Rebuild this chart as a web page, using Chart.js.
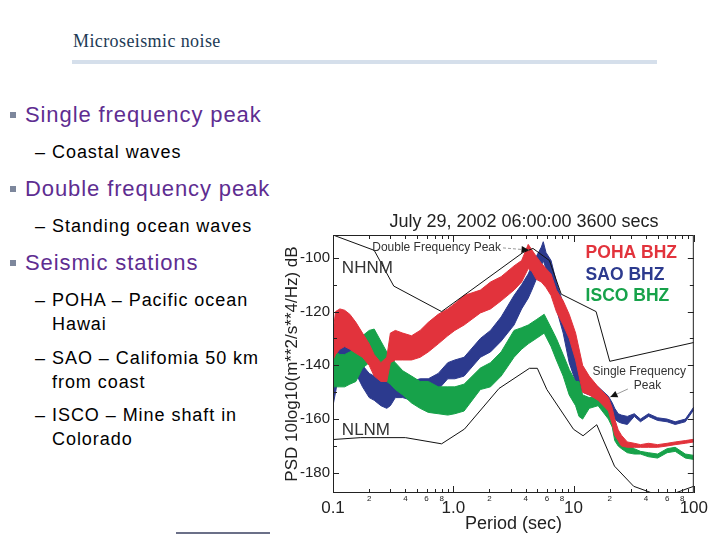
<!DOCTYPE html>
<html>
<head>
<meta charset="utf-8">
<script src="https://cdn.jsdelivr.net/npm/chart.js@4"></script>
<style>
  body { margin: 0; background: #fff; }
  #slide { position: relative; width: 720px; height: 540px; overflow: hidden; font-family: "Liberation Sans", Arial, sans-serif; }
  .t { position: absolute; white-space: nowrap; }
  .head { font-family: "Liberation Serif", serif; font-size: 18px; color: #1d3b55; letter-spacing: 0.4px; }
  .b1 { font-size: 22px; line-height: 26px; color: #5e2d91; letter-spacing: 0.9px; }
  .b2 { font-size: 18px; line-height: 22px; color: #000; letter-spacing: 0.95px; }
  .sq { position: absolute; width: 6px; height: 6px; background: #7d879c; }
  #c { position: absolute; left: 280px; top: 205px; }
</style>
</head>
<body>
<div id="slide">
  <div class="t head" style="left:73px;top:31px;">Microseismic noise</div>
  <div style="position:absolute;left:72px;top:60px;width:585px;height:4px;background:#d5dfeb;"></div>

  <div class="sq" style="left:10px;top:112px;"></div>
  <div class="t b1" style="left:25px;top:102px;">Single frequency peak</div>
  <div class="t b2" style="left:35px;top:141px;">–</div>
  <div class="t b2" style="left:52px;top:141px;">Coastal waves</div>

  <div class="sq" style="left:10px;top:186px;"></div>
  <div class="t b1" style="left:25px;top:176px;">Double frequency peak</div>
  <div class="t b2" style="left:35px;top:215px;">–</div>
  <div class="t b2" style="left:52px;top:215px;">Standing ocean waves</div>

  <div class="sq" style="left:10px;top:260px;"></div>
  <div class="t b1" style="left:25px;top:250px;">Seismic stations</div>
  <div class="t b2" style="left:35px;top:289px;">–</div>
  <div class="t b2" style="left:52px;top:289px;">POHA – Pacific ocean</div>
  <div class="t b2" style="left:52px;top:313px;">Hawai</div>
  <div class="t b2" style="left:35px;top:347px;">–</div>
  <div class="t b2" style="left:52px;top:347px;">SAO – Califomia 50 km</div>
  <div class="t b2" style="left:52px;top:371px;">from coast</div>
  <div class="t b2" style="left:35px;top:404px;">–</div>
  <div class="t b2" style="left:52px;top:404px;">ISCO – Mine shaft in</div>
  <div class="t b2" style="left:52px;top:428px;">Colorado</div>

  <div style="position:absolute;left:176px;top:532px;width:94px;height:2px;background:#6b7088;"></div>

  <canvas id="c" width="430" height="330"></canvas>
</div>

<script>
// chart text
const chartTitle = 'July 29, 2002 06:00:00 3600 secs';
const xTitle = 'Period (sec)';
const yTitle = 'PSD 10log10(m**2/s**4/Hz) dB';

// axis ticks
const xTickValues = [0.1, 0.2, 0.3, 0.4, 0.5, 0.6, 0.7, 0.8, 0.9,
  1, 2, 3, 4, 5, 6, 7, 8, 9,
  10, 20, 30, 40, 50, 60, 70, 80, 90, 100];
const xMajorLabels = { 0.1: '0.1', 1: '1.0', 10: '10', 100: '100' };
const xMinorLabelDigits = [2, 4, 6, 8];
const yTickValues = [-180, -170, -160, -150, -140, -130, -120, -110, -100];
const yLabelStep = 20;

// New high / low noise models
const nhnmPeriod = [0.1, 0.22, 0.32, 0.8, 3.8, 4.6, 6.3, 7.9, 15.4, 20, 100];
const nhnmDb = [-91.5, -97.2, -110.5, -120, -98, -96.5, -101, -113.5, -120, -138.5, -131.5];
const nlnmPeriod = [0.1, 0.17, 0.4, 0.8, 1.24, 2.4, 4.3, 5, 6, 10, 12, 15.6, 21.9, 31.6, 45, 70, 100];
const nlnmDb = [-167.6, -166.9, -166.9, -169.2, -163.7, -148.6, -141.1, -141.1, -149, -163.8, -166.2, -162.1, -177.5, -185, -187.5, -187.5, -185];

// POHA BHZ (red) band
const pohaPeriod = [0.1, 0.105, 0.114, 0.125, 0.138, 0.155, 0.176, 0.2, 0.22, 0.25, 0.28, 0.3, 0.33, 0.38, 0.45, 0.53, 0.62, 0.75, 0.9, 1.03, 1.23, 1.68, 2.04, 2.5, 3.2, 3.7, 4.2, 4.5, 4.9, 5.4, 5.9, 6.5, 7.2, 8.2, 9.2, 10.4, 11.9, 13.5, 16, 19.5, 21, 22, 23.5, 25, 28, 32, 36, 42, 50, 60, 70, 85, 100];
const pohaUpper = [-128, -120, -119, -119.5, -121, -124, -128, -132, -136, -139, -137, -128, -127, -128, -129, -127, -124, -121, -119, -117, -114, -112, -109, -107, -103, -101, -95, -97, -99.5, -102, -104, -106, -112, -116, -121, -128, -140, -144, -148, -152, -156, -160, -164, -166, -168.5, -169, -169.5, -169, -169.5, -169, -168.5, -168, -167.5];
const pohaLower = [-138, -136, -134, -133, -134, -135.5, -137, -140, -144, -146, -146, -139, -138, -138, -138, -137, -135, -132, -129, -127, -125, -120.5, -119, -116, -112, -109, -104, -105, -108, -109, -111, -114, -120, -125, -130, -138, -150, -151, -153, -157, -162, -166, -168, -170, -170.5, -170.5, -170.5, -170.5, -170.5, -170, -169.5, -169, -168.5];

// SAO BHZ (blue) band
const saoPeriod = [0.1, 0.105, 0.114, 0.125, 0.138, 0.155, 0.176, 0.2, 0.22, 0.25, 0.28, 0.3, 0.33, 0.38, 0.45, 0.53, 0.62, 0.75, 0.9, 1.03, 1.23, 1.68, 2.04, 2.5, 3.2, 3.7, 4.2, 4.5, 4.9, 5.4, 5.6, 5.9, 6.5, 7.2, 8.2, 9.2, 10.4, 11.9, 13.5, 16, 19.5, 21, 22, 23.5, 25, 28, 32, 36, 42, 50, 60, 70, 85, 100];
const saoUpper = [-145, -137, -131, -130, -131, -134, -140, -143, -144, -145, -146, -146, -143, -144, -146, -145, -145, -143, -139, -138, -137, -130, -127, -122, -114, -110, -106, -103, -99.5, -96, -94, -98, -101, -109, -117, -128, -137, -144, -146, -148, -151.5, -154, -156, -158, -158.5, -159, -158, -160, -158, -159.5, -160, -161, -160, -155.5];
const saoLower = [-155, -150, -141, -139, -140, -143, -148, -152, -153, -155, -156, -155, -152, -152, -153, -152, -150, -149, -145, -145, -144, -137, -135, -131, -125, -119, -115, -112, -108, -103, -101, -104, -108, -119, -128, -139, -146, -150, -151, -152, -156, -158, -160, -161, -161.5, -162, -159, -161, -159, -160.5, -161, -162, -161, -156.5];

// ISCO BHZ (green) band
const iscoPeriod = [0.1, 0.105, 0.114, 0.125, 0.138, 0.155, 0.176, 0.2, 0.22, 0.25, 0.28, 0.3, 0.33, 0.38, 0.45, 0.53, 0.62, 0.75, 0.9, 1.03, 1.23, 1.68, 2.04, 2.5, 3.2, 3.7, 4.2, 4.9, 5.7, 6.5, 7.2, 8.2, 9.2, 10.4, 11.1, 11.9, 13.5, 16, 19.5, 21, 22, 23.5, 25, 28, 32, 36, 42, 50, 60, 70, 85, 100];
const iscoUpper = [-136, -135, -136, -136, -135, -133, -129, -127, -126.5, -131, -135, -137, -139, -142, -144, -146, -146, -148, -148, -148, -147, -141, -139, -135, -127, -126, -125, -123, -121, -126, -130, -136, -141.5, -146, -146, -151, -152, -151.5, -156, -159, -163, -166, -168, -169, -171, -172, -172.5, -173, -171, -170.5, -173, -173.5];
const iscoLower = [-148, -148, -148, -148, -147, -146, -141, -139, -139, -143, -146, -147, -149, -151, -154, -156, -157.5, -158, -158.5, -158, -157, -149, -148, -144, -137, -134, -132, -130, -128, -133, -138, -144, -151, -155, -159, -160, -156, -155, -160, -163, -168, -170, -171, -172.5, -173, -173, -174, -174.5, -172.5, -172, -174.5, -175];

// legend + annotations (data coordinates)
const legendNames = ['POHA BHZ', 'SAO BHZ', 'ISCO BHZ'];
const legendColors = ['#e2333c', '#2c3a8e', '#17a24a'];
const legendAnchor = { period: 12.6, db: [-98.2, -106.4, -114.2] };
const modelLabels = [
  { text: 'NHNM', period: 0.1185, db: -103.8 },
  { text: 'NLNM', period: 0.1185, db: -164.1 },
];
const doublePeak = { text: 'Double Frequency Peak', period: 0.212, db: -96.3, tipPeriod: 4.24, tipDb: -97.1 };
const singlePeak = {
  lines: ['Single Frequency', 'Peak'],
  periods: [14.4, 31.7], dbs: [-142.5, -147.7],
  fromPeriod: 28.3, fromDb: -148.8, tipPeriod: 20.2, tipDb: -151.8,
};

const FONT = '"Liberation Sans", Arial, sans-serif';

function pts(xs, ys) {
  return xs.map((x, i) => ({ x: x, y: ys[i] }));
}

function band(label, color, xs, upper, lower) {
  return [
    { label: label + ' hi', data: pts(xs, upper), borderColor: color, backgroundColor: color, borderWidth: 1, fill: false },
    { label: label + ' lo', data: pts(xs, lower), borderColor: color, backgroundColor: color, borderWidth: 1, fill: '-1' },
  ];
}

function arrowHead(ctx, x0, y0, x1, y1, size) {
  const a = Math.atan2(y1 - y0, x1 - x0);
  ctx.beginPath();
  ctx.moveTo(x1, y1);
  ctx.lineTo(x1 - size * Math.cos(a - 0.45), y1 - size * Math.sin(a - 0.45));
  ctx.lineTo(x1 - size * Math.cos(a + 0.45), y1 - size * Math.sin(a + 0.45));
  ctx.closePath();
  ctx.fill();
}

const decorPlugin = {
  id: 'decor',
  afterDraw(chart) {
    const ctx = chart.ctx;
    const a = chart.chartArea;
    const xs = chart.scales.x;
    const ys = chart.scales.y;
    ctx.save();

    // frame
    ctx.strokeStyle = '#222';
    ctx.lineWidth = 1;
    ctx.strokeRect(a.left + 0.5, a.top + 0.5, a.right - a.left - 1, a.bottom - a.top - 1);

    // inner ticks
    ctx.beginPath();
    xTickValues.forEach((v) => {
      const px = Math.round(xs.getPixelForValue(v)) + 0.5;
      const len = xMajorLabels[v] ? 7 : 4;
      ctx.moveTo(px, a.bottom);
      ctx.lineTo(px, a.bottom - len);
      ctx.moveTo(px, a.top);
      ctx.lineTo(px, a.top + len);
    });
    yTickValues.forEach((v) => {
      const py = Math.round(ys.getPixelForValue(v)) + 0.5;
      const len = v % yLabelStep === 0 ? 6 : 4;
      ctx.moveTo(a.left, py);
      ctx.lineTo(a.left + len, py);
      ctx.moveTo(a.right, py);
      ctx.lineTo(a.right - len, py);
    });
    ctx.stroke();

    // title
    ctx.fillStyle = '#222';
    ctx.font = '18px ' + FONT;
    ctx.textAlign = 'center';
    ctx.textBaseline = 'middle';
    ctx.fillText(chartTitle, a.left + 191, a.top - 13);

    // model labels
    ctx.textAlign = 'left';
    ctx.font = '17px ' + FONT;
    ctx.fillStyle = '#333';
    modelLabels.forEach((m) => {
      ctx.fillText(m.text, xs.getPixelForValue(m.period), ys.getPixelForValue(m.db));
    });

    // legend
    ctx.font = 'bold 17.5px ' + FONT;
    legendNames.forEach((n, i) => {
      ctx.fillStyle = legendColors[i];
      ctx.fillText(n, xs.getPixelForValue(legendAnchor.period), ys.getPixelForValue(legendAnchor.db[i]));
    });

    // double frequency peak
    ctx.font = '12px ' + FONT;
    ctx.fillStyle = '#333';
    const dx = xs.getPixelForValue(doublePeak.period);
    const dy = ys.getPixelForValue(doublePeak.db);
    ctx.fillText(doublePeak.text, dx, dy);
    const dEnd = dx + ctx.measureText(doublePeak.text).width + 2;
    const tx = xs.getPixelForValue(doublePeak.tipPeriod);
    const ty = ys.getPixelForValue(doublePeak.tipDb);
    ctx.strokeStyle = '#999';
    ctx.setLineDash([3, 2]);
    ctx.beginPath();
    ctx.moveTo(dEnd, dy);
    ctx.lineTo(tx, ty);
    ctx.stroke();
    ctx.setLineDash([]);
    ctx.fillStyle = '#111';
    arrowHead(ctx, dEnd, dy, tx, ty, 8);

    // single frequency peak
    ctx.fillStyle = '#333';
    singlePeak.lines.forEach((t, i) => {
      ctx.fillText(t, xs.getPixelForValue(singlePeak.periods[i]), ys.getPixelForValue(singlePeak.dbs[i]));
    });
    const fx = xs.getPixelForValue(singlePeak.fromPeriod);
    const fy = ys.getPixelForValue(singlePeak.fromDb);
    const sx = xs.getPixelForValue(singlePeak.tipPeriod);
    const sy = ys.getPixelForValue(singlePeak.tipDb);
    ctx.strokeStyle = '#999';
    ctx.beginPath();
    ctx.moveTo(fx, fy);
    ctx.lineTo(sx, sy);
    ctx.stroke();
    ctx.fillStyle = '#111';
    arrowHead(ctx, fx, fy, sx, sy, 8);

    ctx.restore();
  },
};

const datasets = [
  { label: 'NHNM', data: pts(nhnmPeriod, nhnmDb), borderColor: '#111', borderWidth: 1, fill: false },
  { label: 'NLNM', data: pts(nlnmPeriod, nlnmDb), borderColor: '#111', borderWidth: 1, fill: false },
  ...band('POHA', legendColors[0], pohaPeriod, pohaUpper, pohaLower),
  ...band('ISCO', legendColors[2], iscoPeriod, iscoUpper, iscoLower),
  ...band('SAO', legendColors[1], saoPeriod, saoUpper, saoLower),
];

new Chart(document.getElementById('c'), {
  type: 'line',
  data: { datasets: datasets },
  options: {
    responsive: false,
    animation: false,
    parsing: false,
    layout: { padding: { left: 0, top: 30, right: 10, bottom: 0 } },
    elements: { point: { radius: 0 }, line: { tension: 0 } },
    plugins: {
      legend: { display: false },
      tooltip: { enabled: false },
      filler: { propagate: false },
    },
    scales: {
      x: {
        type: 'logarithmic',
        min: 0.1,
        max: 100,
        afterBuildTicks: (scale) => {
          scale.ticks = xTickValues.map((v) => ({ value: v }));
        },
        afterFit: (scale) => { scale.height = 42; },
        grid: { display: false, drawTicks: false },
        border: { display: false },
        ticks: {
          autoSkip: false,
          maxRotation: 0,
          padding: 2,
          color: '#222',
          font: (c) => {
            const v = c.tick ? c.tick.value : 1;
            return xMajorLabels[v] ? { family: FONT, size: 17, lineHeight: 1.6 } : { family: FONT, size: 8, lineHeight: 1 };
          },
          callback: (v) => {
            if (xMajorLabels[v]) return xMajorLabels[v];
            const d = Math.round(v / Math.pow(10, Math.floor(Math.log10(v) + 1e-9)));
            return xMinorLabelDigits.includes(d) ? String(d) : '';
          },
        },
        title: { display: true, text: xTitle, color: '#222', font: { family: FONT, size: 18 }, padding: { top: 0, bottom: 0 } },
      },
      y: {
        type: 'linear',
        min: -187.5,
        max: -91.5,
        afterBuildTicks: (scale) => {
          scale.ticks = yTickValues.map((v) => ({ value: v }));
        },
        afterFit: (scale) => { scale.width = 53; },
        grid: { display: false, drawTicks: false },
        border: { display: false },
        ticks: {
          padding: 3,
          color: '#222',
          font: { family: FONT, size: 15 },
          callback: (v) => (v % yLabelStep === 0 ? String(v) : ''),
        },
        title: { display: true, text: yTitle, color: '#222', font: { family: FONT, size: 17 }, padding: { top: 2, bottom: 0 } },
      },
    },
  },
  plugins: [decorPlugin],
});
</script>
</body>
</html>
